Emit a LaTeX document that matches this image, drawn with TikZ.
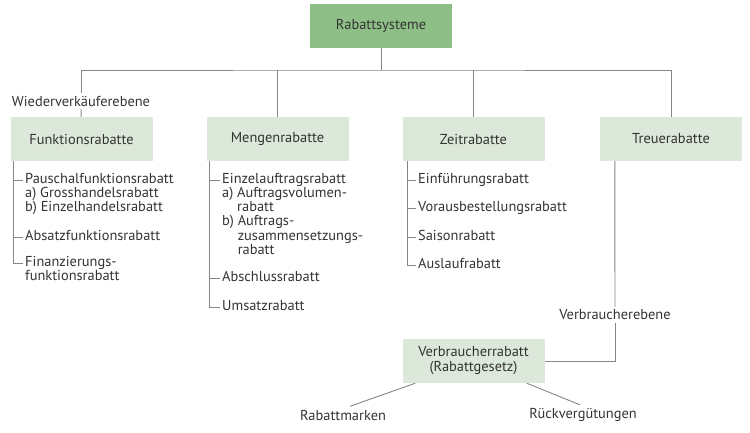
\documentclass[tikz,border=0pt]{standalone}
\usepackage{fontspec}
\setmainfont{PT Sans}
\usetikzlibrary{positioning,calc}
\definecolor{topgreen}{HTML}{8DBF86}
\definecolor{catgreen}{HTML}{DCE8D9}
\definecolor{linegray}{HTML}{858585}
\definecolor{txt}{HTML}{333333}

\begin{document}
\begin{tikzpicture}[x=1pt,y=-1pt,
      every node/.style={font=\fontsize{14.4}{15}\selectfont,text=txt},
      top/.style={fill=topgreen,minimum width=142pt,minimum height=44pt,inner sep=2pt},
      cat/.style={fill=catgreen,minimum width=142pt,minimum height=44pt,inner sep=2pt,align=center},
      item/.style={anchor=west,inner xsep=2pt,inner ysep=0pt,text height=10pt,text depth=3pt},
      lvl/.style={inner sep=3pt},
      tree/.style={draw=linegray,line width=0.9pt},
      twig/.style={draw=linegray,line width=0.8pt}
    ]
    \useasboundingbox (0,0) rectangle (750,432);
    % top and categories
    \node[top] (rs) at (381,26) {Rabattsysteme};
    \node[cat] (fun) at (81.5,139) {Funktionsrabatte};
    \node[cat] (men) at (277.5,139) {Mengenrabatte};
    \node[cat] (zeit) at (473.5,139) {Zeitrabatte};
    \node[cat] (treu) at (671,139) {Treuerabatte};
    % levels
    \node[lvl] (wve) at (81,101) {Wiederverkäuferebene};
    \node[lvl] (vbe) at (615,315) {Verbraucherebene};
    % consumer side
    \node[cat] (vr) at (473.5,361) {Verbraucherrabatt\\(Rabattgesetz)};
    \node (rm) at (343,415) {Rabattmarken};
    \node (rv) at (583,415) {Rückvergütungen};
    % tree
    \coordinate (j) at (381,70);
    \draw[tree] (rs) -- (j);
    \draw[tree] (wve) |- (j) -| (treu);
    \draw[tree] (wve) -- (fun);
    \draw[tree] (j -| men) -- (men);
    \draw[tree] (j -| zeit) -- (zeit);
    \draw[tree] ([xshift=15]treu.south west) -- (vbe);
    \draw[tree] (vbe) |- (vr);
    \draw[tree] ([xshift=13]vr.south west) -- ([xshift=7]rm.north);
    \draw[tree] ([xshift=-18]vr.south east) -- ([xshift=-3]rv.north);
    % Funktionsrabatte
    \node[item] (f1) at (23,180) {Pauschalfunktionsrabatt};
    \node[item] (f1a) at (23,194) {a) Grosshandelsrabatt};
    \node[item] (f1b) at (23,208) {b) Einzelhandelsrabatt};
    \node[item] (f2) at (23,237) {Absatzfunktionsrabatt};
    \node[item] (f3) at (23,263) {Finanzierungs-};
    \node[item] (f3a) at (23,277) {funktionsrabatt};
    \coordinate (ft) at ([xshift=3.5]fun.south west);
    \draw[twig] (ft) |- (f3);
    \foreach \i in {f1,f2}{\draw[twig] (ft |- \i) -- (\i);}
    % Mengenrabatte
    \node[item] (m1) at (220,180) {Einzelauftragsrabatt};
    \node[item] (m1a) at (220,194) {a) Auftragsvolumen-};
    \node[item] (m1b) at (220,208) {\hphantom{a) }rabatt};
    \node[item] (m1c) at (220,222) {b) Auftrags-};
    \node[item] (m1d) at (220,237) {\hphantom{b) }zusammensetzungs-};
    \node[item] (m1e) at (220,251) {\hphantom{b) }rabatt};
    \node[item] (m2) at (220,278) {Abschlussrabatt};
    \node[item] (m3) at (220,307) {Umsatzrabatt};
    \coordinate (mt) at ([xshift=3.5]men.south west);
    \draw[twig] (mt) |- (m3);
    \foreach \i in {m1,m2}{\draw[twig] (mt |- \i) -- (\i);}
    % Zeitrabatte
    \node[item] (z1) at (416,180) {Einführungsrabatt};
    \node[item] (z2) at (416,208) {Vorausbestellungsrabatt};
    \node[item] (z3) at (416,237) {Saisonrabatt};
    \node[item] (z4) at (416,265) {Auslaufrabatt};
    \coordinate (zt) at ([xshift=5.5]zeit.south west);
    \draw[twig] (zt) |- (z4);
    \foreach \i in {z1,z2,z3}{\draw[twig] (zt |- \i) -- (\i);}
  \end{tikzpicture}
\end{document}
